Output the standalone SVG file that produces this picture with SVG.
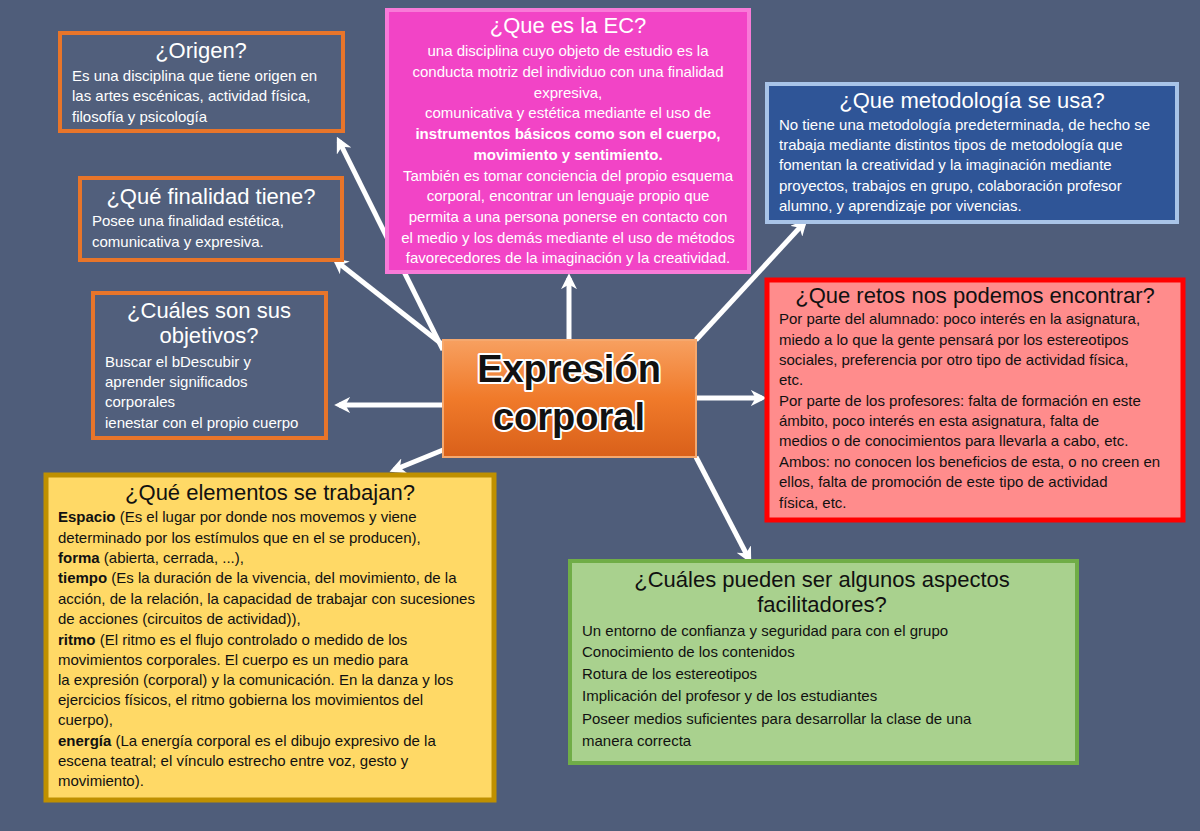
<svg xmlns="http://www.w3.org/2000/svg" width="1200" height="831" viewBox="0 0 1200 831">
<defs>
<style>
text{font-family:"Liberation Sans",Arial,sans-serif}
.t{font-size:22px;text-anchor:middle}
.b{font-size:15px}
.w{fill:#fff}
.k{fill:#111}
.bb{font-weight:bold}
.arr{stroke:#fff;stroke-width:5;fill:none;marker-end:url(#ah)}
.c{font-size:38px;font-weight:bold;text-anchor:middle;fill:#111;stroke:#fff;stroke-width:4;paint-order:stroke;stroke-linejoin:round}
</style>
<marker id="ah" viewBox="0 0 10 10" refX="7" refY="5" markerWidth="3.2" markerHeight="3.2" orient="auto"><path d="M0,0 L10,5 L0,10 L3,5 z" fill="#fff"/></marker>
<linearGradient id="og" x1="0" y1="0" x2="0" y2="1"><stop offset="0" stop-color="#f7a060"/><stop offset="0.5" stop-color="#f07a2a"/><stop offset="1" stop-color="#d9601a"/></linearGradient>
</defs>
<rect width="1200" height="831" fill="#4f5d7a"/>
<g id="connectors">
<line class="arr" x1="443" y1="350" x2="339" y2="141"/>
<line class="arr" x1="443" y1="345" x2="336" y2="261"/>
<line class="arr" x1="443" y1="405" x2="339" y2="405"/>
<line class="arr" x1="443" y1="450" x2="394" y2="470"/>
<line class="arr" x1="569" y1="340" x2="569" y2="278"/>
<line class="arr" x1="696" y1="340" x2="804" y2="223"/>
<line class="arr" x1="696" y1="398" x2="762" y2="398"/>
<line class="arr" x1="696" y1="457" x2="749" y2="559"/>
</g>
<g id="origen">
<rect x="60" y="33" width="283" height="98" fill="#515f7c" stroke="#e8752a" stroke-width="4"/>
<text class="t w" x="201" y="58">¿Origen?</text>
<text class="b w" x="72" y="81">Es una disciplina que tiene origen en</text>
<text class="b w" x="72" y="101">las artes escénicas, actividad física,</text>
<text class="b w" x="72" y="122">filosofía y psicología</text>
</g>
<g id="finalidad">
<rect x="80" y="178" width="262" height="82" fill="#515f7c" stroke="#e8752a" stroke-width="4"/>
<text class="t w" x="211" y="204">¿Qué finalidad tiene?</text>
<text class="b w" x="92" y="226">Posee una finalidad estética,</text>
<text class="b w" x="92" y="247">comunicativa y expresiva.</text>
</g>
<g id="objetivos">
<rect x="93" y="293" width="233" height="145" fill="#515f7c" stroke="#e8752a" stroke-width="4"/>
<text class="t w" x="209" y="318">¿Cuáles son sus</text>
<text class="t w" x="209" y="343">objetivos?</text>
<text class="b w" x="105" y="367">Buscar el bDescubir y</text>
<text class="b w" x="105" y="387">aprender significados</text>
<text class="b w" x="105" y="407">corporales</text>
<text class="b w" x="105" y="428">ienestar con el propio cuerpo</text>
</g>
<g id="que-es">
<rect x="387" y="10" width="362" height="262" fill="#f244c6" stroke="#f97ad8" stroke-width="4"/>
<text class="t w" x="568" y="33">¿Que es la EC?</text>
<g class="b w" text-anchor="middle">
<text x="568" y="56">una disciplina cuyo objeto de estudio es la</text>
<text x="568" y="77">conducta motriz del individuo con una finalidad</text>
<text x="568" y="98">expresiva,</text>
<text x="568" y="118">comunicativa y estética mediante el uso de</text>
<text x="568" y="139" class="bb">instrumentos básicos como son el cuerpo,</text>
<text x="568" y="160" class="bb">movimiento y sentimiento.</text>
<text x="568" y="181">También es tomar conciencia del propio esquema</text>
<text x="568" y="201">corporal, encontrar un lenguaje propio que</text>
<text x="568" y="222">permita a una persona ponerse en contacto con</text>
<text x="568" y="243">el medio y los demás mediante el uso de métodos</text>
<text x="568" y="263">favorecedores de la imaginación y la creatividad.</text>
</g>
</g>
<g id="central">
<rect x="443" y="340" width="253" height="117" fill="url(#og)" stroke="#f5a86e" stroke-width="2"/>
<text class="c" x="569" y="382">Expresión</text>
<text class="c" x="569" y="430">corporal</text>
</g>
<g id="metodologia">
<rect x="767" y="84" width="410" height="138" fill="#2f5597" stroke="#a9c4e8" stroke-width="4"/>
<text class="t w" x="972" y="108">¿Que metodología se usa?</text>
<text class="b w" x="779" y="130">No tiene una metodología predeterminada, de hecho se</text>
<text class="b w" x="779" y="150">trabaja mediante distintos tipos de metodología que</text>
<text class="b w" x="779" y="170">fomentan la creatividad y la imaginación mediante</text>
<text class="b w" x="779" y="191">proyectos, trabajos en grupo, colaboración profesor</text>
<text class="b w" x="779" y="211">alumno, y aprendizaje por vivencias.</text>
</g>
<g id="retos">
<rect x="767" y="280" width="416" height="240" fill="#ff8c8c" stroke="#ff0000" stroke-width="5"/>
<text class="t k" x="975" y="303">¿Que retos nos podemos encontrar?</text>
<text class="b k" x="779" y="324">Por parte del alumnado: poco interés en la asignatura,</text>
<text class="b k" x="779" y="345">miedo a lo que la gente pensará por los estereotipos</text>
<text class="b k" x="779" y="365">sociales, preferencia por otro tipo de actividad física,</text>
<text class="b k" x="779" y="385">etc.</text>
<text class="b k" x="779" y="406">Por parte de los profesores: falta de formación en este</text>
<text class="b k" x="779" y="426">ámbito, poco interés en esta asignatura, falta de</text>
<text class="b k" x="779" y="446">medios o de conocimientos para llevarla a cabo, etc.</text>
<text class="b k" x="779" y="467">Ambos: no conocen los beneficios de esta, o no creen en</text>
<text class="b k" x="779" y="487">ellos, falta de promoción de este tipo de actividad</text>
<text class="b k" x="779" y="508">física, etc.</text>
</g>
<g id="elementos">
<rect x="46" y="475" width="448" height="325" fill="#ffd966" stroke="#bf9000" stroke-width="5"/>
<text class="t k" x="270" y="500">¿Qué elementos se trabajan?</text>
<g class="b k">
<text x="58" y="522"><tspan class="bb">Espacio</tspan> (Es el lugar por donde nos movemos y viene</text>
<text x="58" y="543">determinado por los estímulos que en el se producen),</text>
<text x="58" y="563"> <tspan class="bb">forma</tspan> (abierta, cerrada, ...),</text>
<text x="58" y="583"><tspan class="bb">tiempo</tspan> (Es la duración de la vivencia, del movimiento, de la</text>
<text x="58" y="604">acción, de la relación, la capacidad de trabajar con sucesiones</text>
<text x="58" y="624">de acciones (circuitos de actividad)),</text>
<text x="58" y="645"> <tspan class="bb">ritmo</tspan> (El ritmo es el flujo controlado o medido de los</text>
<text x="58" y="665">movimientos corporales. El cuerpo es un medio para</text>
<text x="58" y="685">la expresión (corporal) y la comunicación. En la danza y los</text>
<text x="58" y="705">ejercicios físicos, el ritmo gobierna los movimientos del</text>
<text x="58" y="725">cuerpo),</text>
<text x="58" y="746"><tspan class="bb">energía</tspan> (La energía corporal es el dibujo expresivo de la</text>
<text x="58" y="766">escena teatral; el vínculo estrecho entre voz, gesto y</text>
<text x="58" y="786">movimiento).</text>
</g>
</g>
<g id="facilitadores">
<rect x="570" y="561" width="507" height="202" fill="#a9d18e" stroke="#70ad47" stroke-width="4"/>
<text class="t k" x="822" y="587">¿Cuáles pueden ser algunos aspectos</text>
<text class="t k" x="822" y="612">facilitadores?</text>
<text class="b k" x="582" y="636">Un entorno de confianza y seguridad para con el grupo</text>
<text class="b k" x="582" y="657">Conocimiento de los contenidos</text>
<text class="b k" x="582" y="679">Rotura de los estereotipos</text>
<text class="b k" x="582" y="701">Implicación del profesor y de los estudiantes</text>
<text class="b k" x="582" y="724">Poseer medios suficientes para desarrollar la clase de una</text>
<text class="b k" x="582" y="746">manera correcta</text>
</g>
</svg>
